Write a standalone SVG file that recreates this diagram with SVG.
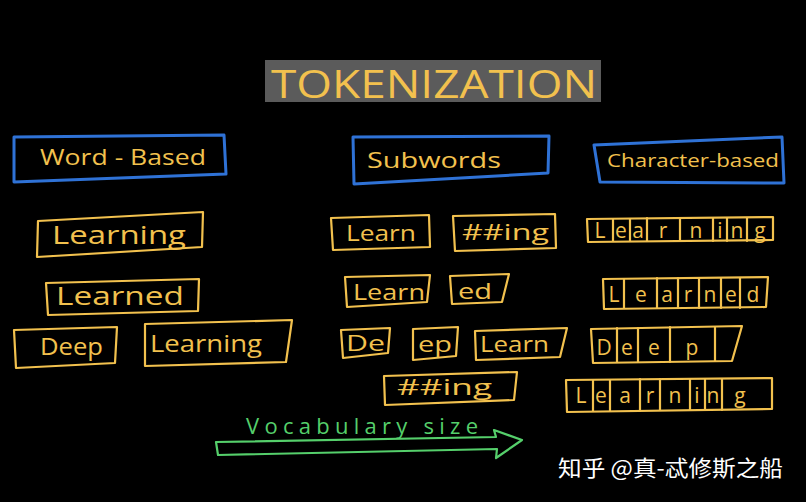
<svg xmlns="http://www.w3.org/2000/svg" width="806" height="502" viewBox="0 0 806 502">
<style>
.y{fill:none;stroke:#f2c14e;stroke-width:2.2;stroke-linejoin:round;stroke-linecap:round}
.b{fill:none;stroke:#2f72d6;stroke-width:3;stroke-linejoin:round}
.t{font-family:"Open Sans","Liberation Sans",sans-serif;fill:#f2c14e}
.c{font-family:"Open Sans","Liberation Sans",sans-serif;fill:#f2c14e;font-size:21px;text-anchor:middle}
.g{fill:none;stroke:#55cf6b;stroke-width:2.2;stroke-linejoin:round}
</style>
<rect width="806" height="502" fill="#000"/>
<g id="title">
<rect x="265" y="60" width="336" height="42" fill="#5b5b5b"/>
<text class="t" x="271" y="98" font-size="38" textLength="326" lengthAdjust="spacingAndGlyphs">TOKENIZATION</text>
</g>
<g id="word-based">
<polygon class="b" points="14,137 224,135 226,174 14,182"/>
<text class="t" x="40" y="165" font-size="22" textLength="166" lengthAdjust="spacingAndGlyphs">Word - Based</text>
</g>
<g id="subwords">
<polygon class="b" points="353,137 549,136 548,173 354,184"/>
<text class="t" x="367" y="168" font-size="21" textLength="134" lengthAdjust="spacingAndGlyphs">Subwords</text>
</g>
<g id="character-based">
<polygon class="b" points="594,145 782,137 784,183 600,182"/>
<text class="t" x="607" y="167" font-size="18" textLength="172" lengthAdjust="spacingAndGlyphs">Character-based</text>
</g>
<g id="w-learning">
<polygon class="y" points="38,221 203,212 202,247 37,257"/>
<text class="t" x="52" y="244" font-size="26" textLength="134" lengthAdjust="spacingAndGlyphs">Learning</text>
</g>
<g id="w-learned">
<polygon class="y" points="46,283 199,279 198,311 48,315"/>
<text class="t" x="56" y="305" font-size="25" textLength="128" lengthAdjust="spacingAndGlyphs">Learned</text>
</g>
<g id="w-deep">
<polygon class="y" points="14,330 117,327 115,363 16,368"/>
<text class="t" x="40" y="355" font-size="24" textLength="63" lengthAdjust="spacingAndGlyphs">Deep</text>
</g>
<g id="w-learning2">
<polygon class="y" points="145,324 292,320 286,362 145,366"/>
<text class="t" x="150" y="352" font-size="24" textLength="112" lengthAdjust="spacingAndGlyphs">Learning</text>
</g>
<g id="s-learn1">
<polygon class="y" points="331,218 429,215 430,247 333,250"/>
<text class="t" x="346" y="241" font-size="21" textLength="70" lengthAdjust="spacingAndGlyphs">Learn</text>
</g>
<g id="s-ing1">
<polygon class="y" points="453,216 555,214 556,248 455,251"/>
<text class="t" x="462" y="240" font-size="21" textLength="87" lengthAdjust="spacingAndGlyphs">##ing</text>
</g>
<g id="s-learn2">
<polygon class="y" points="345,277 430,275 427,302 347,307"/>
<text class="t" x="353" y="300" font-size="21" textLength="72" lengthAdjust="spacingAndGlyphs">Learn</text>
</g>
<g id="s-ed">
<polygon class="y" points="450,276 509,274 502,302 452,304"/>
<text class="t" x="458" y="299" font-size="21" textLength="34" lengthAdjust="spacingAndGlyphs">ed</text>
</g>
<g id="s-de">
<polygon class="y" points="341,330 390,328 388,353 343,358"/>
<text class="t" x="346" y="351" font-size="21" textLength="39" lengthAdjust="spacingAndGlyphs">De</text>
</g>
<g id="s-ep">
<polygon class="y" points="413,329 458,327 456,356 413,360"/>
<text class="t" x="418" y="352" font-size="21" textLength="34" lengthAdjust="spacingAndGlyphs">ep</text>
</g>
<g id="s-learn3">
<polygon class="y" points="475,331 567,328 560,357 476,360"/>
<text class="t" x="480" y="352" font-size="21" textLength="69" lengthAdjust="spacingAndGlyphs">Learn</text>
</g>
<g id="s-ing2">
<polygon class="y" points="384,376 517,372 514,400 385,405"/>
<text class="t" x="397" y="395" font-size="22" textLength="95" lengthAdjust="spacingAndGlyphs">##ing</text>
</g>
<g id="c-learning">
<polygon class="y" points="587,219 773,217 773,240 588,242"/>
<path class="y" d="M613,219V241M630,219V241M647,218V241M680,218V241M713,218V241M727,218V241M747,218V241"/>
<text class="c" x="600" y="238">L</text><text class="c" x="621" y="238">e</text><text class="c" x="638" y="238">a</text><text class="c" x="663" y="238">r</text><text class="c" x="696" y="238">n</text><text class="c" x="720" y="238">i</text><text class="c" x="737" y="238">n</text><text class="c" x="760" y="238">g</text>
</g>
<g id="c-learned">
<polygon class="y" points="603,279 768,277 766,307 604,309"/>
<path class="y" d="M624,279V308M657,278V308M678,278V308M699,278V308M721,278V308M740,278V308"/>
<text class="c" x="614" y="302">L</text><text class="c" x="641" y="302">e</text><text class="c" x="667" y="302">a</text><text class="c" x="688" y="302">r</text><text class="c" x="710" y="302">n</text><text class="c" x="731" y="302">e</text><text class="c" x="753" y="302">d</text>
</g>
<g id="c-deep">
<polygon class="y" points="591,329 742,326 732,361 593,363"/>
<path class="y" d="M617,328V362M638,328V362M670,327V362M715,327V361"/>
<text class="c" x="604" y="355">D</text><text class="c" x="627" y="355">e</text><text class="c" x="654" y="355">e</text><text class="c" x="692" y="355">p</text>
</g>
<g id="c-learning2">
<polygon class="y" points="566,380 772,378 772,409 567,412"/>
<path class="y" d="M593,380V411M610,380V411M640,379V411M660,379V410M690,379V410M705,379V410M722,379V410"/>
<text class="c" x="581" y="403">L</text><text class="c" x="601" y="403">e</text><text class="c" x="625" y="403">a</text><text class="c" x="650" y="403">r</text><text class="c" x="675" y="403">n</text><text class="c" x="697" y="403">i</text><text class="c" x="713" y="403">n</text><text class="c" x="740" y="403">g</text>
</g>
<g id="vocab-arrow">
<polygon class="g" points="216,442 496,437 494,430 522,440 496,458 497,449 218,455"/>
<text x="246" y="434" font-family="'Open Sans','Liberation Sans',sans-serif" font-size="22" fill="#55cf6b" textLength="232" lengthAdjust="spacing">Vocabulary size</text>
</g>
<g id="watermark">
<text x="558" y="476" font-family="'Noto Sans CJK SC','Noto Sans',sans-serif" font-size="22" fill="#fff" textLength="225" lengthAdjust="spacingAndGlyphs">知乎 @真-忒修斯之船</text>
</g>
</svg>
